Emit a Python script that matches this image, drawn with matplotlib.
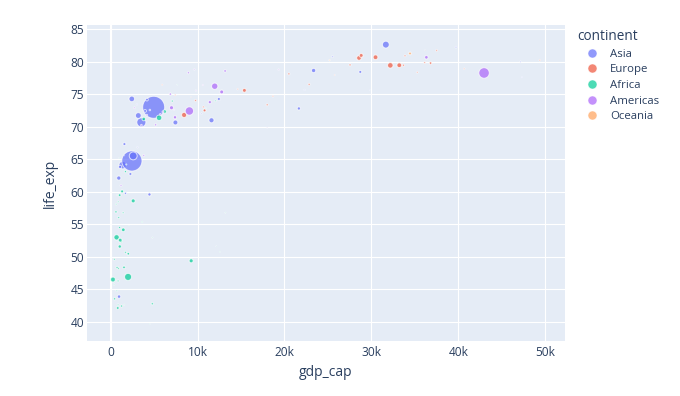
import numpy as np
import matplotlib.pyplot as plt
from matplotlib.lines import Line2D
from matplotlib.ticker import FuncFormatter

plt.rcParams['font.family'] = ['Open Sans', 'DejaVu Sans']

# Gapminder 2007 values (gdp per capita, life expectancy, population)
asia_gdp = [974.58, 29796.05, 1391.25, 1713.78, 4959.11, 39724.98, 2452.21, 3540.65, 11605.71,
            4471.06, 25523.28, 31656.07, 4519.46, 1593.07, 23348.14, 47306.99, 10461.06, 12451.66,
            3095.77, 944.0, 1091.36, 22316.19, 2605.95, 3190.48, 21654.83, 47143.18, 3970.10,
            4184.55, 28718.28, 7458.40, 2441.58, 3025.35, 2280.77]
asia_life = [43.83, 75.64, 64.06, 59.72, 72.96, 82.21, 64.70, 70.65, 70.96, 59.55, 80.75, 82.60,
             72.54, 67.30, 78.62, 77.59, 71.99, 74.24, 66.80, 62.07, 63.79, 75.64, 65.48, 71.69,
             72.78, 79.97, 72.40, 74.14, 78.40, 70.62, 74.25, 73.42, 62.70]
asia_pop = [31.89, 0.71, 150.45, 14.13, 1318.68, 6.98, 1110.40, 223.55, 69.45, 27.50, 6.43,
            127.47, 6.05, 23.30, 49.04, 2.51, 3.92, 24.82, 2.87, 47.76, 28.90, 3.20, 169.27, 91.08,
            27.60, 4.55, 20.38, 19.31, 23.17, 65.07, 85.26, 4.02, 22.21]

europe_gdp = [5937.03, 36126.49, 33692.61, 7446.30, 10680.79, 14619.22, 22833.31, 35278.42,
              33207.08, 30470.02, 32170.37, 27538.41, 18008.94, 36180.79, 40676.0, 28569.72,
              9253.90, 36797.93, 49357.19, 15389.92, 20509.65, 10808.48, 9786.53, 18678.31,
              25768.26, 28821.06, 33859.75, 37506.42, 8458.28, 33203.26]
europe_life = [76.42, 79.83, 79.44, 74.85, 73.01, 75.75, 76.49, 78.33, 79.31, 80.66, 79.41, 79.48,
               73.34, 81.76, 78.89, 80.55, 74.54, 79.76, 80.20, 75.56, 78.10, 72.48, 74.00, 74.66,
               77.93, 80.94, 80.88, 81.70, 71.78, 79.43]
europe_pop = [3.60, 8.20, 10.39, 4.55, 7.32, 4.49, 10.23, 5.47, 5.24, 61.08, 82.40, 10.71, 9.96,
              0.30, 4.11, 58.15, 0.68, 16.57, 4.63, 38.52, 10.64, 22.28, 10.15, 5.45, 2.01, 40.45,
              9.03, 7.55, 71.16, 60.78]

africa_gdp = [6223.37, 4797.23, 1441.28, 12569.85, 1217.03, 430.07, 2042.10, 706.02, 1704.06,
              986.15, 277.55, 3632.56, 1544.75, 2082.48, 5581.18, 12154.09, 641.37, 690.81,
              13206.48, 752.75, 1327.61, 942.65, 579.23, 1463.25, 1569.33, 414.51, 12057.50,
              1044.77, 759.35, 1042.58, 1803.15, 10956.99, 3820.18, 823.69, 4811.06, 619.68,
              2013.98, 7670.12, 863.09, 1598.44, 1712.47, 862.54, 926.14, 9269.66, 2602.39,
              4513.48, 1107.48, 882.97, 7092.92, 1056.38, 1271.21, 469.71]
africa_life = [72.30, 42.73, 56.73, 50.73, 52.30, 49.58, 50.43, 44.74, 50.65, 65.15, 46.46, 55.32,
               48.33, 54.79, 71.34, 51.58, 58.04, 52.95, 56.74, 59.45, 60.02, 56.01, 46.39, 54.11,
               42.59, 45.68, 73.95, 59.44, 48.30, 54.47, 64.16, 72.80, 71.16, 42.08, 52.91, 56.87,
               46.86, 76.44, 46.24, 65.53, 63.06, 42.57, 48.16, 49.34, 58.56, 39.61, 52.52, 58.42,
               73.92, 51.54, 42.38, 43.49]
africa_pop = [33.33, 12.42, 8.08, 1.64, 14.33, 8.39, 17.70, 4.37, 10.24, 0.71, 64.61, 3.80, 18.01,
              0.50, 80.26, 0.55, 4.91, 76.51, 1.45, 1.69, 22.87, 9.95, 1.47, 35.61, 2.01, 3.19,
              6.04, 19.17, 13.33, 12.03, 3.27, 1.25, 33.76, 19.95, 2.06, 12.89, 135.03, 0.80, 8.86,
              0.20, 12.27, 6.14, 9.12, 44.00, 42.29, 1.13, 38.14, 5.70, 10.28, 29.17, 11.75, 12.31]

americas_gdp = [12779.38, 3822.14, 9065.80, 36319.24, 13171.64, 7006.58, 9645.06, 8948.10,
                6025.37, 6873.26, 5728.35, 5186.05, 1201.64, 3548.33, 7320.88, 11977.57, 2749.32,
                9809.19, 4172.84, 7408.91, 19328.71, 18008.51, 42951.65, 10611.46, 11415.81]
americas_life = [75.32, 65.55, 72.39, 80.65, 78.55, 72.89, 78.78, 78.27, 72.24, 74.99, 71.88,
                 70.26, 60.92, 70.20, 72.57, 76.20, 72.90, 75.54, 71.75, 71.42, 78.75, 69.82,
                 78.24, 76.38, 73.75]
americas_pop = [40.30, 9.12, 190.01, 33.39, 16.28, 44.23, 4.13, 11.42, 9.32, 13.76, 6.94, 12.57,
                8.50, 7.48, 2.78, 108.70, 5.68, 3.24, 6.67, 28.67, 3.94, 1.06, 301.14, 3.45, 26.08]

oceania_gdp = [34435.37, 25185.01]
oceania_life = [81.24, 80.20]
oceania_pop = [20.43, 4.12]

continents = ['Asia', 'Europe', 'Africa', 'Americas', 'Oceania']
colors = ['#636efa', '#EF553B', '#00cc96', '#ab63fa', '#FFA15A']
gdp_all = [asia_gdp, europe_gdp, africa_gdp, americas_gdp, oceania_gdp]
life_all = [asia_life, europe_life, africa_life, americas_life, oceania_life]
pop_all = [asia_pop, europe_pop, africa_pop, americas_pop, oceania_pop]

fig = plt.figure(figsize=(6.8, 3.96), dpi=100)
ax = fig.add_axes([87 / 680, 1 - 341 / 396, (565 - 87) / 680, (341 - 25) / 396])
ax.set_facecolor('#E5ECF6')

pop_max = max(max(p) for p in pop_all)
max_diam_px = 22
px2pt = 72 / 100

for i, (name, col) in enumerate(zip(continents, colors)):
    pop = np.array(pop_all[i])
    d_pt = max_diam_px * np.sqrt(pop / pop_max) * px2pt
    ax.scatter(gdp_all[i], life_all[i], s=d_pt ** 2, color=col, alpha=0.7,
               edgecolors='white', linewidths=0.72, zorder=3 + i)

ax.set_xlim(-2710, 52260)
ax.set_ylim(37.0, 85.62)
ax.set_xticks(np.arange(0, 50001, 10000))
ax.set_yticks(np.arange(40, 86, 5))
ax.xaxis.set_major_formatter(FuncFormatter(lambda v, p: '0' if v == 0 else f'{int(v / 1000)}k'))
ax.grid(True, color='white', linewidth=0.8, zorder=0)
ax.axvline(0, color='white', linewidth=1.5, zorder=1)
ax.set_axisbelow(True)
for s in ax.spines.values():
    s.set_visible(False)
ax.tick_params(length=0, colors='#2a3f5f', labelsize=8.6)
ax.tick_params(axis='x', pad=3.5)
ax.tick_params(axis='y', pad=2)

fig.text(326 / 680, 1 - 372 / 396, 'gdp_cap', ha='center', va='center', color='#2a3f5f', fontsize=10)
fig.text(50 / 680, 1 - 183 / 396, 'life_exp', ha='center', va='center', rotation=90,
         color='#2a3f5f', fontsize=10)

handles = [Line2D([], [], marker='o', linestyle='', color=c, alpha=0.7, markersize=6.5,
                  markeredgecolor='white', markeredgewidth=0.5) for c in colors]
leg = fig.legend(handles, continents, title='continent', loc='upper left',
                 bbox_to_anchor=(575 / 680, 1 - 27 / 396), frameon=False, fontsize=8.2,
                 title_fontsize=9.8, labelspacing=0.4, handletextpad=0.3, borderaxespad=0,
                 borderpad=0.2, handlelength=2.6, alignment='left')
leg.get_title().set_color('#2a3f5f')
for t in leg.get_texts():
    t.set_color('#2a3f5f')

fig.savefig('out.png', dpi=100)
